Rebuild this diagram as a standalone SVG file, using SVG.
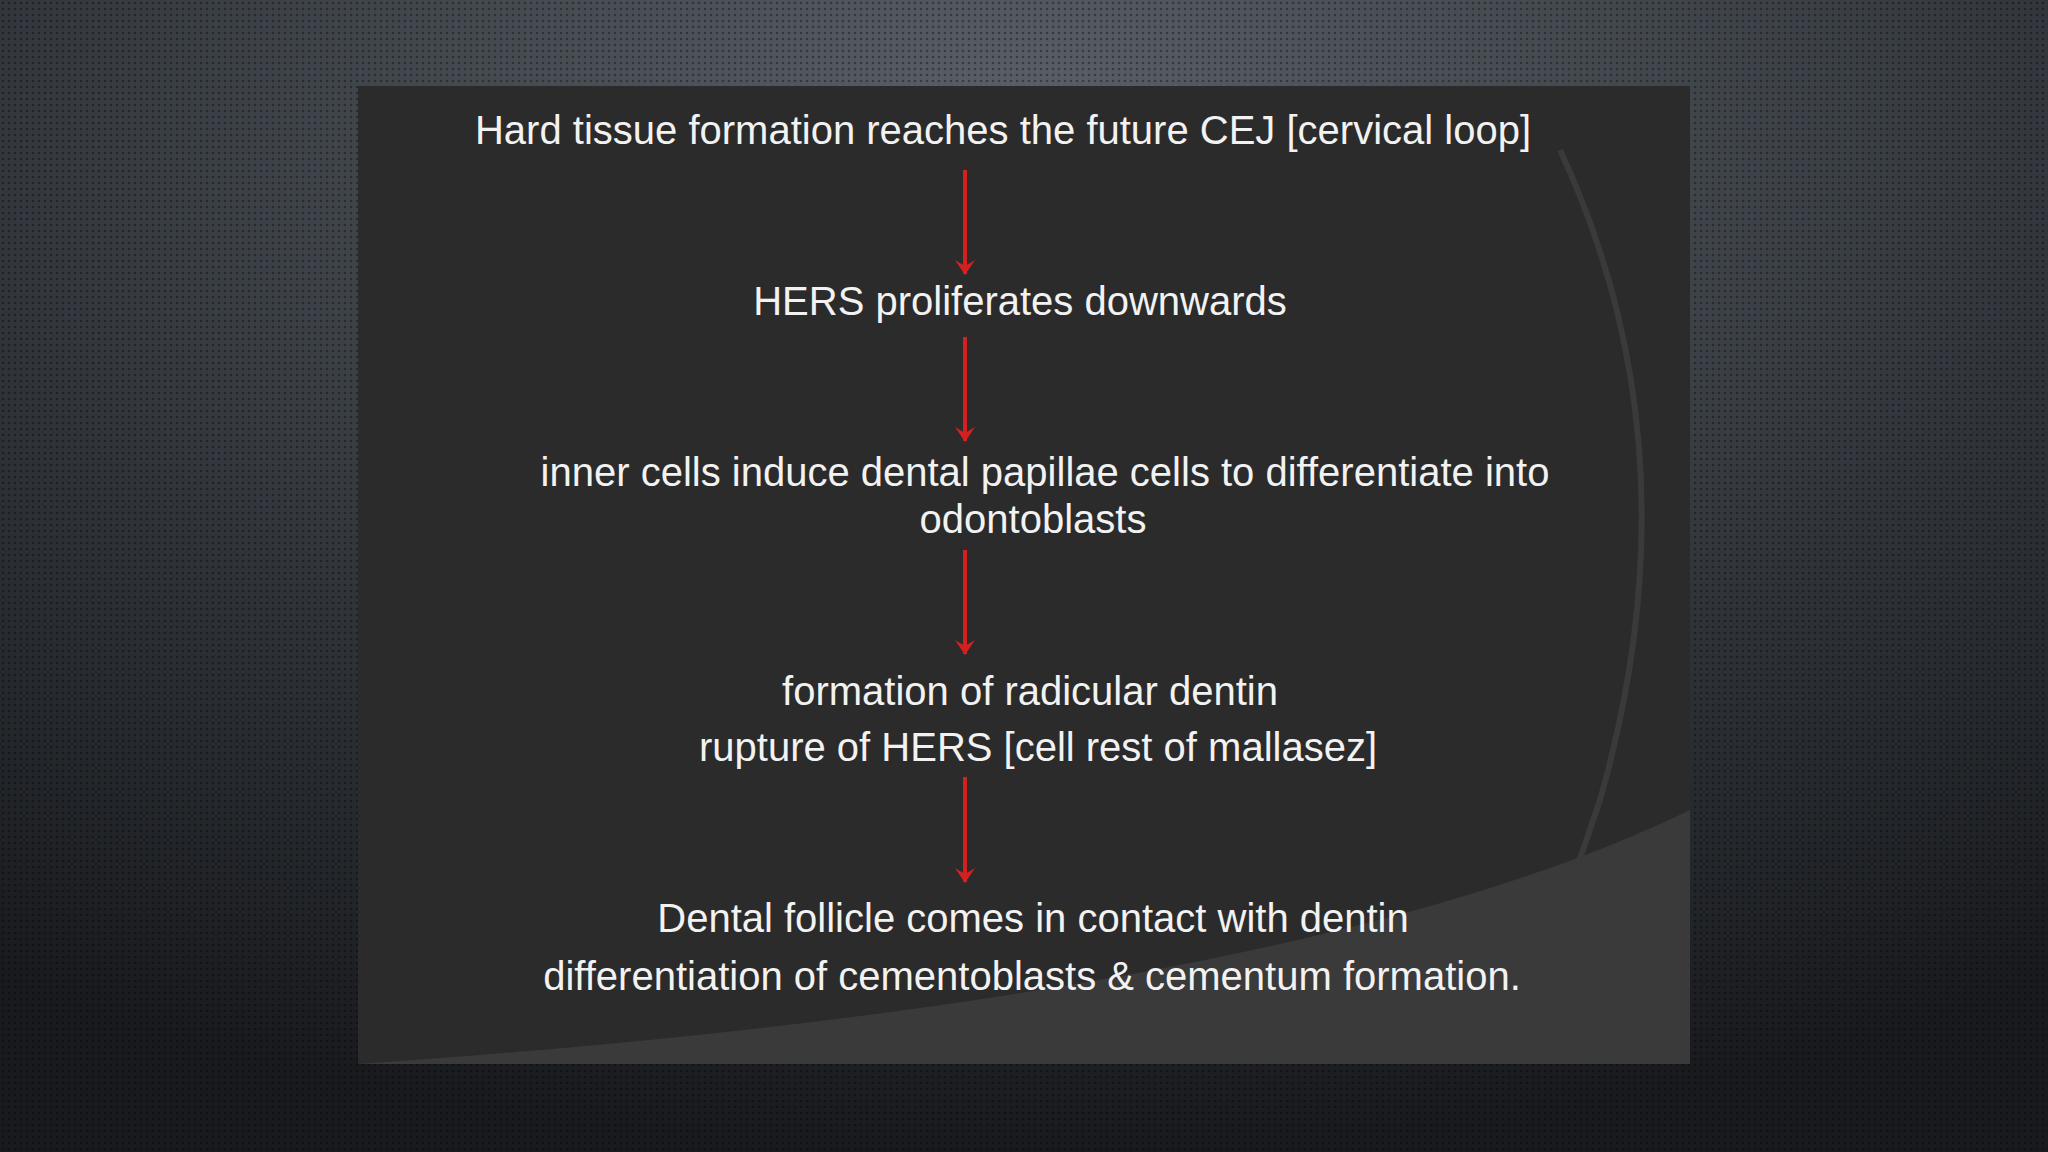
<svg xmlns="http://www.w3.org/2000/svg" width="2048" height="1152" viewBox="0 0 2048 1152">
<defs>
<radialGradient id="bg" cx="50%" cy="10%" r="90%">
<stop offset="0" stop-color="#5a6068"/><stop offset="0.6" stop-color="#30343a"/><stop offset="1" stop-color="#181a1d"/>
</radialGradient>
<pattern id="dots" width="6" height="6" patternUnits="userSpaceOnUse">
<circle cx="3" cy="3" r="1.3" fill="#000" fill-opacity="0.35"/>
</pattern>
<marker id="ah" viewBox="0 0 20 20" refX="18" refY="10" markerWidth="20" markerHeight="20" markerUnits="userSpaceOnUse" orient="auto">
<path d="M4,0 L19,10 L4,20 L10,10 Z" fill="#d42020"/>
</marker>
<clipPath id="pc"><rect x="358" y="86" width="1332" height="978"/></clipPath>
<style>
text{font-family:"Liberation Sans",Arial,sans-serif;font-size:40px;fill:#f2f2f2;text-anchor:middle}
.ar{stroke:#d42020;stroke-width:4;fill:none;marker-end:url(#ah)}
</style>
</defs>
<rect width="2048" height="1152" fill="url(#bg)"/>
<rect width="2048" height="1152" fill="url(#dots)"/>
<g id="panel">
<rect x="358" y="86" width="1332" height="978" fill="#2b2b2b"/>
<g clip-path="url(#pc)">
<path d="M1690,810 Q1300,1000 358,1064 L1690,1064 Z" fill="#3a3a3a"/>
<path d="M1560,150 Q1700,450 1600,800 Q1540,980 1490,1064" stroke="#3a3a3a" stroke-width="6" fill="none"/>
</g>
</g>
<g id="n1"><text x="1003" y="144">Hard tissue formation reaches the future CEJ [cervical loop]</text></g>
<g id="n2"><text x="1020" y="315">HERS proliferates downwards</text></g>
<g id="n3"><text x="1045" y="486">inner cells induce dental papillae cells to differentiate into</text><text x="1033" y="533">odontoblasts</text></g>
<g id="n4"><text x="1030" y="705">formation of radicular dentin</text><text x="1038" y="761">rupture of HERS [cell rest of mallasez]</text></g>
<g id="n5"><text x="1033" y="932">Dental follicle comes in contact with dentin</text><text x="1032" y="990">differentiation of cementoblasts &amp; cementum formation.</text></g>
<g id="connectors">
<line class="ar" x1="965" y1="170" x2="965" y2="274"/>
<line class="ar" x1="965" y1="337" x2="965" y2="441"/>
<line class="ar" x1="965" y1="550" x2="965" y2="654"/>
<line class="ar" x1="965" y1="777" x2="965" y2="882"/>
</g>
</svg>
